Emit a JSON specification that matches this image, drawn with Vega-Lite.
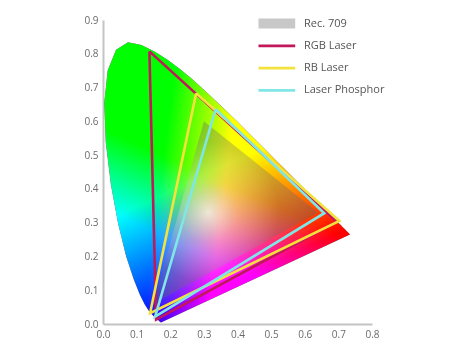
{
  "$schema": "https://vega.github.io/schema/vega-lite/v6.json",
  "width": 269,
  "height": 304,
  "autosize": "none",
  "padding": {"left": 103, "top": 20, "right": 102, "bottom": 27},
  "background": "white",
  "config": {
    "view": {"stroke": null},
    "axis": {"domainColor": "#c4c4c4", "domainWidth": 2, "ticks": false, "grid": false, "labelColor": "#6b6b6b", "labelFontSize": 10, "labelFont": "Open Sans", "labelPadding": 5, "labelFlush": false, "title": null},
    "legend": {"labelFont": "Open Sans", "labelFontSize": 11, "labelColor": "#555555"}
  },
  "datasets": {
    "locus": [
      {"wl": 380, "x": 0.1741, "y": 0.0050}, {"wl": 385, "x": 0.1740, "y": 0.0050}, {"wl": 390, "x": 0.1738, "y": 0.0049}, {"wl": 395, "x": 0.1736, "y": 0.0049},
      {"wl": 400, "x": 0.1733, "y": 0.0048}, {"wl": 405, "x": 0.1730, "y": 0.0048}, {"wl": 410, "x": 0.1726, "y": 0.0048}, {"wl": 415, "x": 0.1721, "y": 0.0048},
      {"wl": 420, "x": 0.1714, "y": 0.0051}, {"wl": 425, "x": 0.1703, "y": 0.0058}, {"wl": 430, "x": 0.1689, "y": 0.0069}, {"wl": 435, "x": 0.1669, "y": 0.0086},
      {"wl": 440, "x": 0.1644, "y": 0.0109}, {"wl": 445, "x": 0.1611, "y": 0.0138}, {"wl": 450, "x": 0.1566, "y": 0.0177}, {"wl": 455, "x": 0.1510, "y": 0.0227},
      {"wl": 460, "x": 0.1440, "y": 0.0297}, {"wl": 465, "x": 0.1355, "y": 0.0399}, {"wl": 470, "x": 0.1241, "y": 0.0578}, {"wl": 475, "x": 0.1096, "y": 0.0868},
      {"wl": 480, "x": 0.0913, "y": 0.1327}, {"wl": 485, "x": 0.0687, "y": 0.2007}, {"wl": 490, "x": 0.0454, "y": 0.2950}, {"wl": 495, "x": 0.0235, "y": 0.4127},
      {"wl": 500, "x": 0.0082, "y": 0.5384}, {"wl": 505, "x": 0.0039, "y": 0.6548}, {"wl": 510, "x": 0.0139, "y": 0.7502}, {"wl": 515, "x": 0.0389, "y": 0.8120},
      {"wl": 520, "x": 0.0743, "y": 0.8338}, {"wl": 525, "x": 0.1142, "y": 0.8262}, {"wl": 530, "x": 0.1547, "y": 0.8059}, {"wl": 535, "x": 0.1929, "y": 0.7816},
      {"wl": 540, "x": 0.2296, "y": 0.7543}, {"wl": 545, "x": 0.2658, "y": 0.7243}, {"wl": 550, "x": 0.3016, "y": 0.6923}, {"wl": 555, "x": 0.3373, "y": 0.6589},
      {"wl": 560, "x": 0.3731, "y": 0.6245}, {"wl": 565, "x": 0.4087, "y": 0.5896}, {"wl": 570, "x": 0.4441, "y": 0.5547}, {"wl": 575, "x": 0.4788, "y": 0.5202},
      {"wl": 580, "x": 0.5125, "y": 0.4866}, {"wl": 585, "x": 0.5448, "y": 0.4544}, {"wl": 590, "x": 0.5752, "y": 0.4242}, {"wl": 595, "x": 0.6029, "y": 0.3965},
      {"wl": 600, "x": 0.6270, "y": 0.3725}, {"wl": 605, "x": 0.6482, "y": 0.3514}, {"wl": 610, "x": 0.6658, "y": 0.3340}, {"wl": 615, "x": 0.6801, "y": 0.3197},
      {"wl": 620, "x": 0.6915, "y": 0.3083}, {"wl": 625, "x": 0.7006, "y": 0.2993}, {"wl": 630, "x": 0.7079, "y": 0.2920}, {"wl": 635, "x": 0.7140, "y": 0.2859},
      {"wl": 640, "x": 0.7190, "y": 0.2809}, {"wl": 645, "x": 0.7230, "y": 0.2770}, {"wl": 650, "x": 0.7260, "y": 0.2740}, {"wl": 655, "x": 0.7283, "y": 0.2717},
      {"wl": 660, "x": 0.7300, "y": 0.2700}, {"wl": 665, "x": 0.7311, "y": 0.2689}, {"wl": 670, "x": 0.7320, "y": 0.2680}, {"wl": 675, "x": 0.7327, "y": 0.2673},
      {"wl": 680, "x": 0.7334, "y": 0.2666}, {"wl": 685, "x": 0.7340, "y": 0.2660}, {"wl": 690, "x": 0.7344, "y": 0.2656}, {"wl": 695, "x": 0.7346, "y": 0.2654},
      {"wl": 700, "x": 0.7347, "y": 0.2653}
    ],
    "gamuts": [
      {"series": "Rec. 709", "pt": 0, "x": 0.64, "y": 0.33}, {"series": "Rec. 709", "pt": 1, "x": 0.30, "y": 0.60}, {"series": "Rec. 709", "pt": 2, "x": 0.15, "y": 0.06}, {"series": "Rec. 709", "pt": 3, "x": 0.64, "y": 0.33},
      {"series": "RGB Laser", "pt": 0, "x": 0.138, "y": 0.807}, {"series": "RGB Laser", "pt": 1, "x": 0.695, "y": 0.303}, {"series": "RGB Laser", "pt": 2, "x": 0.158, "y": 0.013}, {"series": "RGB Laser", "pt": 3, "x": 0.138, "y": 0.807},
      {"series": "RB Laser", "pt": 0, "x": 0.277, "y": 0.683}, {"series": "RB Laser", "pt": 1, "x": 0.703, "y": 0.305}, {"series": "RB Laser", "pt": 2, "x": 0.14, "y": 0.032}, {"series": "RB Laser", "pt": 3, "x": 0.277, "y": 0.683},
      {"series": "Laser Phosphor", "pt": 0, "x": 0.335, "y": 0.636}, {"series": "Laser Phosphor", "pt": 1, "x": 0.658, "y": 0.328}, {"series": "Laser Phosphor", "pt": 2, "x": 0.155, "y": 0.022}, {"series": "Laser Phosphor", "pt": 3, "x": 0.335, "y": 0.636}
    ]
  },
  "encoding": {
    "x": {"field": "x", "type": "quantitative", "scale": {"domain": [0, 0.8], "nice": false}, "axis": {"values": [0, 0.1, 0.2, 0.3, 0.4, 0.5, 0.6, 0.7, 0.8], "format": ".1f"}},
    "y": {"field": "y", "type": "quantitative", "scale": {"domain": [0, 0.9], "nice": false}, "axis": {"values": [0, 0.1, 0.2, 0.3, 0.4, 0.5, 0.6, 0.7, 0.8, 0.9], "format": ".1f"}}
  },
  "layer": [
    {
      "data": {"name": "locus"},
      "mark": {"type": "line", "fill": "#000000", "stroke": null, "strokeWidth": 0},
      "encoding": {"order": {"field": "wl", "type": "quantitative"}}
    },
    {
      "data": {"name": "locus"},
      "mark": {"type": "line", "stroke": null, "strokeWidth": 0, "blend": "screen",
        "fill": {"gradient": "linear", "x1": 0.2243, "y1": 0.5233, "x2": 0.4835, "y2": 0.5609,
          "stops": [{"offset": 0, "color": "#000000"}, {"offset": 1, "color": "#ff0000"}]}},
      "encoding": {"order": {"field": "wl", "type": "quantitative"}}
    },
    {
      "data": {"name": "locus"},
      "mark": {"type": "line", "stroke": null, "strokeWidth": 0, "blend": "screen",
        "fill": {"gradient": "linear", "x1": 0.5420, "y1": 0.8514, "x2": 0.3884, "y2": 0.4808,
          "stops": [{"offset": 0, "color": "#000000"}, {"offset": 1, "color": "#00ff00"}]}},
      "encoding": {"order": {"field": "wl", "type": "quantitative"}}
    },
    {
      "data": {"name": "locus"},
      "mark": {"type": "line", "stroke": null, "strokeWidth": 0, "blend": "screen",
        "fill": {"gradient": "linear", "x1": 0.4736, "y1": 0.4961, "x2": 0.3744, "y2": 0.7462,
          "stops": [{"offset": 0, "color": "#000000"}, {"offset": 1, "color": "#0000ff"}]}},
      "encoding": {"order": {"field": "wl", "type": "quantitative"}}
    },
    {
      "data": {"name": "gamuts"},
      "transform": [{"filter": "datum.series === 'Rec. 709'"}],
      "mark": {"type": "line", "stroke": null, "strokeWidth": 0,
        "fill": {"gradient": "radial", "x1": 0.35, "y1": 0.5, "r1": 0, "x2": 0.35, "y2": 0.5, "r2": 0.55,
          "stops": [{"offset": 0, "color": "rgba(255,255,255,0.7)"}, {"offset": 0.3, "color": "rgba(220,220,220,0.3)"}, {"offset": 0.7, "color": "rgba(110,110,110,0.33)"}, {"offset": 1, "color": "rgba(100,100,100,0.38)"}]}},
      "encoding": {"order": {"field": "pt", "type": "quantitative"}}
    },
    {
      "data": {"name": "gamuts"},
      "transform": [{"filter": "datum.series !== 'Rec. 709'"}],
      "mark": {"type": "line", "strokeWidth": 2.6, "strokeJoin": "miter"},
      "encoding": {
        "order": {"field": "pt", "type": "quantitative"},
        "stroke": {"field": "series", "type": "nominal",
          "scale": {"domain": ["Rec. 709", "RGB Laser", "RB Laser", "Laser Phosphor"], "range": ["#c8c8c8", "#c2185b", "#f4e33c", "#80e6e6"]},
          "legend": {"title": null, "orient": "none", "legendX": 155, "legendY": -2, "symbolSize": 100, "labelOffset": 35, "rowPadding": 10.3,
            "symbolType": "M-1,-0.27H6.34V0.27H-1Z",
            "encode": {"symbols": {"update": {
              "shape": {"signal": "datum.value === 'Rec. 709' ? 'M-1,-1H6.34V1H-1Z' : 'M-1,-0.27H6.34V0.27H-1Z'"},
              "fill": {"scale": "stroke", "field": "value"},
              "strokeWidth": {"value": 0}
            }}}}
        }
      }
    }
  ]
}
